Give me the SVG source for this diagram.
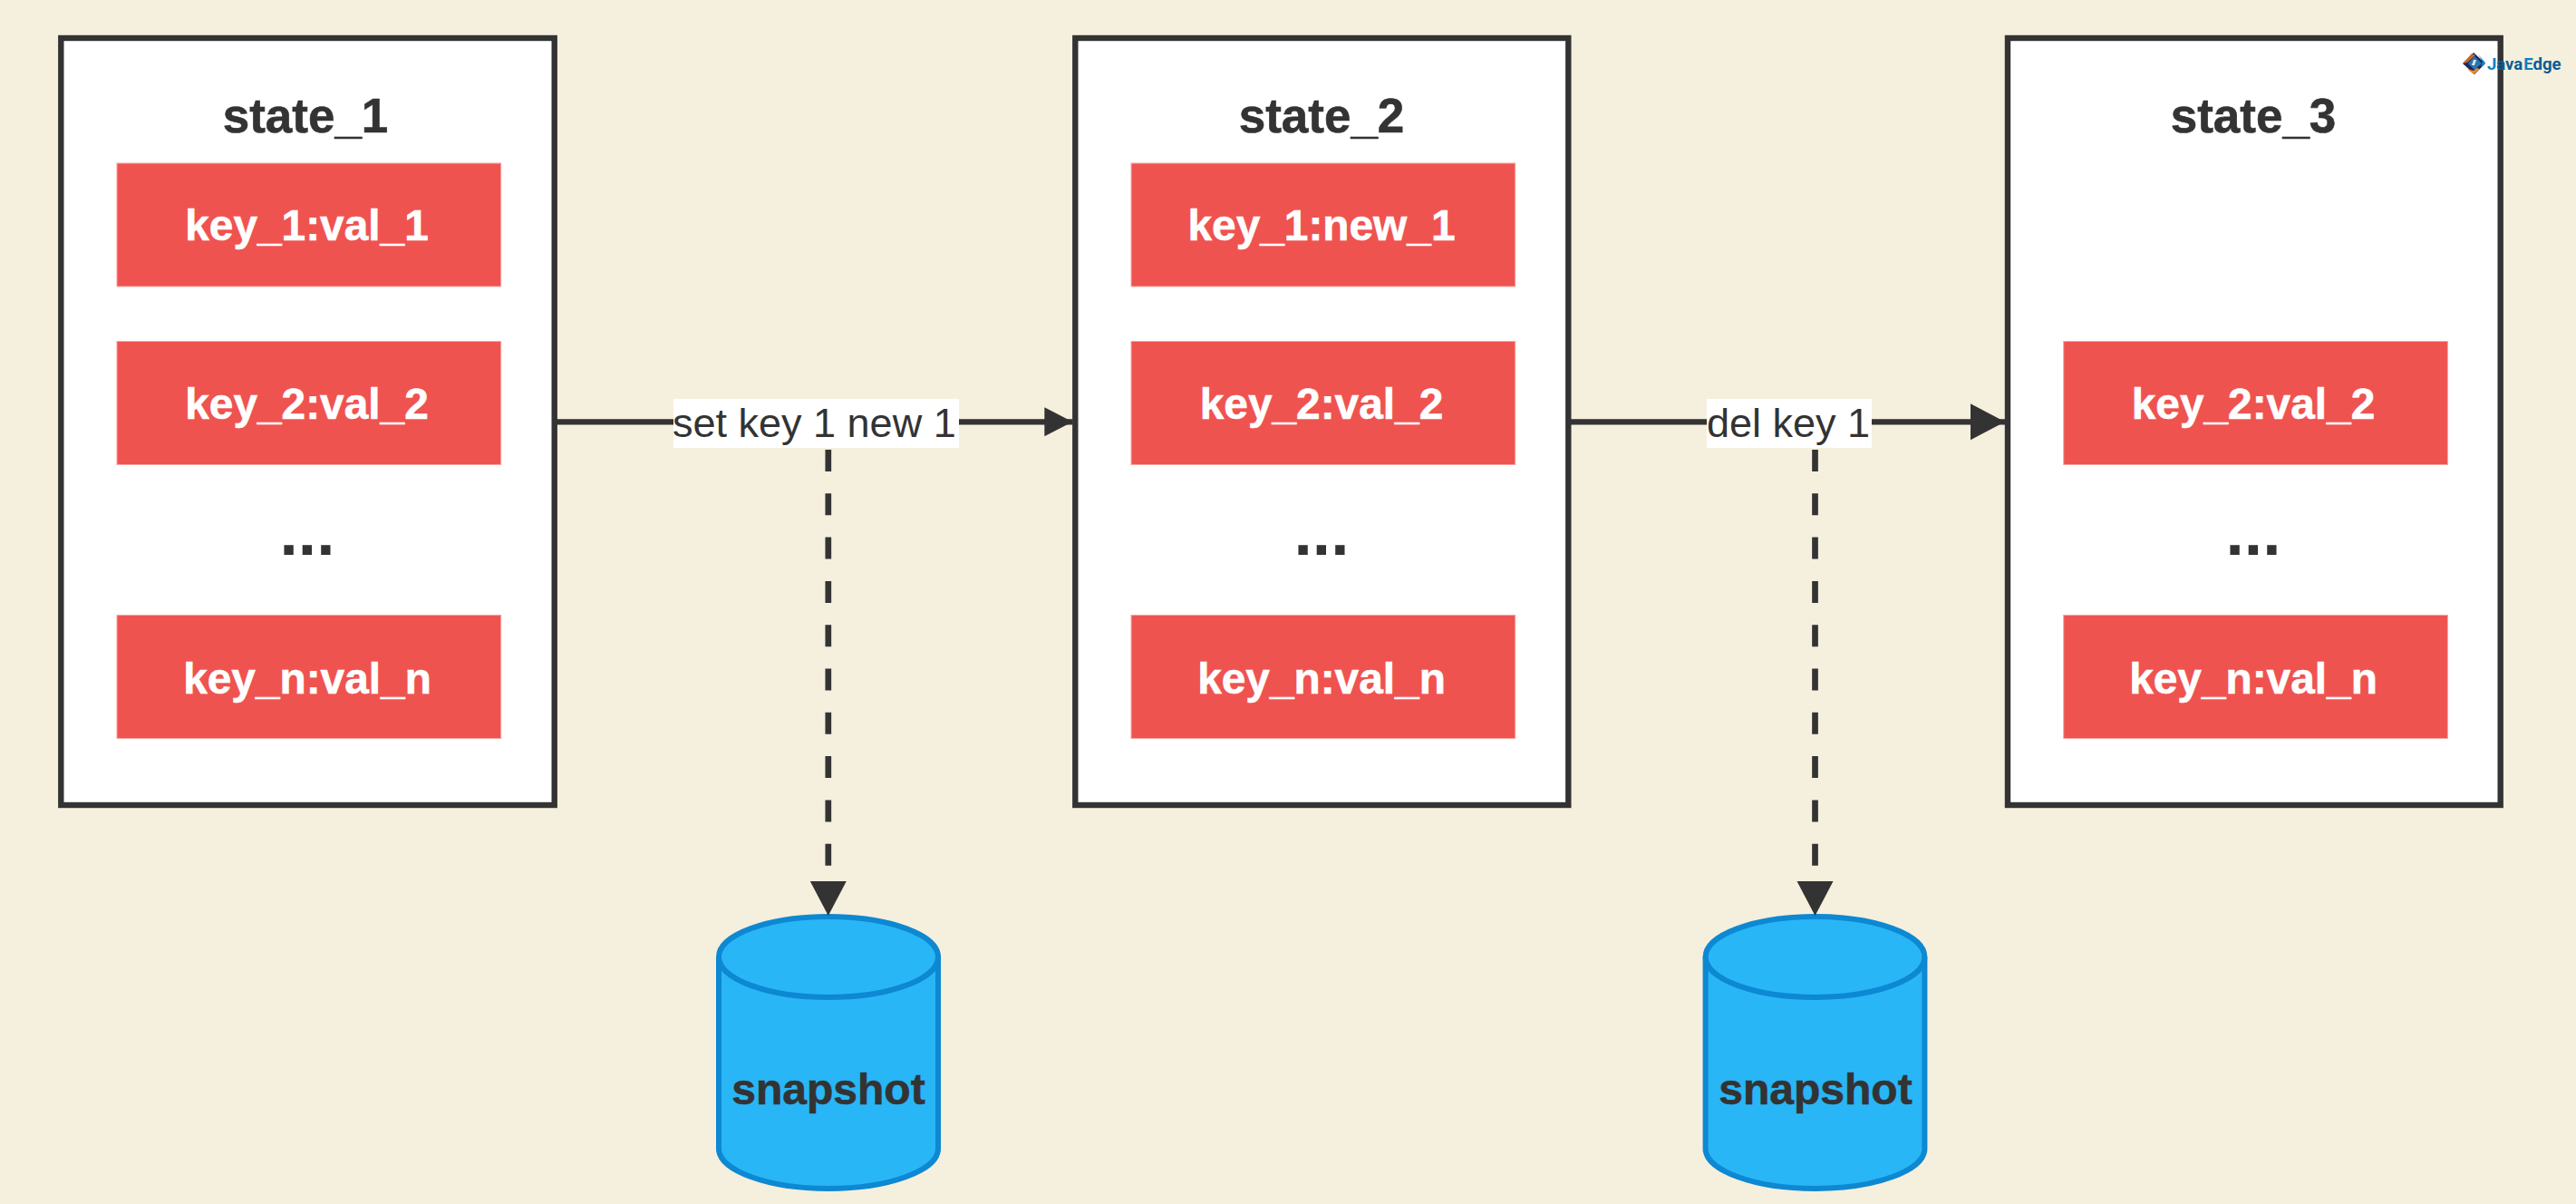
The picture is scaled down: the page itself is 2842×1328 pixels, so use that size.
<svg xmlns="http://www.w3.org/2000/svg" width="2842" height="1328" viewBox="0 0 2842 1328">
<style>
text{font-family:"Liberation Sans",Arial,sans-serif}
.box{fill:#fff;stroke:#333;stroke-width:6.4}
.kv{fill:#ef5350;stroke:#f8a5a3;stroke-width:1}
.kt{fill:#fff;stroke:#fff;stroke-width:.6;font-size:47.8px;font-weight:700;text-anchor:middle}
.title{fill:#333;stroke:#333;stroke-width:.6;font-size:53px;font-weight:700;text-anchor:middle}
.dots{fill:#333;font-size:73px;font-weight:700;text-anchor:middle}
.line{fill:none;stroke:#333;stroke-width:6.2}
.dash{stroke-width:6.7;stroke-dasharray:24 24.3}
.lbl{fill:#fff}
.lt{fill:#333;font-size:45px}
.db{fill:#29b6f6;stroke:#0d88d2;stroke-width:6}
.rim{fill:none;stroke:#0d88d2;stroke-width:6}
.dt{fill:#333;stroke:#333;stroke-width:.6;font-size:48px;font-weight:700;text-anchor:middle}
</style>
<defs>
<marker id="a1" markerUnits="userSpaceOnUse" markerWidth="34" markerHeight="34" refX="31" refY="16" orient="auto"><path d="M0 0L31 16L0 32Z" fill="#333"/></marker>
<marker id="a2" markerUnits="userSpaceOnUse" markerWidth="40" markerHeight="42" refX="38" refY="20" orient="auto"><path d="M0 0L38 20L0 40Z" fill="#333"/></marker>
<marker id="a3" markerUnits="userSpaceOnUse" markerWidth="42" markerHeight="42" refX="2" refY="20" orient="auto"><path d="M2 0L40 20L2 40Z" fill="#333"/></marker>
</defs>
<rect width="2842" height="1328" fill="#f5efdd"/>
<g id="state_1">
<rect class="box" x="67.3" y="42" width="544.4" height="846"/>
<text class="title" x="337" y="145.5">state_1</text>
<rect class="kv" x="129" y="180" width="423.7" height="136"/><text class="kt" x="338.5" y="265">key_1:val_1</text>
<rect class="kv" x="129" y="376.5" width="423.7" height="136"/><text class="kt" x="338.5" y="462">key_2:val_2</text>
<text class="dots" x="339" y="611.7">...</text>
<rect class="kv" x="129" y="678.5" width="423.7" height="136"/><text class="kt" x="339" y="765">key_n:val_n</text>
</g>
<g id="state_2">
<rect class="box" x="1186.3" y="42" width="544" height="846"/>
<text class="title" x="1458" y="145.5">state_2</text>
<rect class="kv" x="1248" y="180" width="423.7" height="136"/><text class="kt" x="1458" y="265">key_1:new_1</text>
<rect class="kv" x="1248" y="376.5" width="423.7" height="136"/><text class="kt" x="1458" y="462">key_2:val_2</text>
<text class="dots" x="1458" y="611.7">...</text>
<rect class="kv" x="1248" y="678.5" width="423.7" height="136"/><text class="kt" x="1458" y="765">key_n:val_n</text>
</g>
<g id="state_3">
<rect class="box" x="2215" y="42" width="543.7" height="846"/>
<text class="title" x="2486" y="145.5">state_3</text>
<rect class="kv" x="2276.7" y="376.5" width="423.7" height="136"/><text class="kt" x="2486" y="462">key_2:val_2</text>
<text class="dots" x="2486" y="611.7">...</text>
<rect class="kv" x="2276.7" y="678.5" width="423.7" height="136"/><text class="kt" x="2486" y="765">key_n:val_n</text>
</g>
<g id="snapshot_1">
<path class="db" d="M793 1055.5C793 1031 847 1011 914 1011S1035 1031 1035 1055.5V1267C1035 1291 981 1311 914 1311S793 1291 793 1267Z"/>
<path class="rim" d="M793 1055.5C793 1080 847 1100 914 1100S1035 1080 1035 1055.5"/>
<text class="dt" x="914" y="1218">snapshot</text>
</g>
<g id="snapshot_2">
<path class="db" d="M1881.6 1055.5C1881.6 1031 1935.6 1011 2002.5 1011S2123.4 1031 2123.4 1055.5V1267C2123.4 1291 2069.4 1311 2002.5 1311S1881.6 1291 1881.6 1267Z"/>
<path class="rim" d="M1881.6 1055.5C1881.6 1080 1935.6 1100 2002.5 1100S2123.4 1080 2123.4 1055.5"/>
<text class="dt" x="2003" y="1218">snapshot</text>
</g>
<g id="connectors">
<line class="line" x1="612" y1="465.3" x2="1183.3" y2="465.3" marker-end="url(#a1)"/>
<line class="line" x1="1731" y1="465.3" x2="2212" y2="465.3" marker-end="url(#a2)"/>
<line class="line dash" x1="913.8" y1="496" x2="913.8" y2="972" marker-end="url(#a3)"/>
<line class="line dash" x1="2002.5" y1="496" x2="2002.5" y2="972" marker-end="url(#a3)"/>
<rect class="lbl" x="743" y="440" width="315" height="54"/>
<text class="lt" x="742" y="481.7">set key 1 new 1</text>
<rect class="lbl" x="1883" y="440" width="182" height="54"/>
<text class="lt" x="1883" y="481.7">del key 1</text>
</g>
<g id="watermark">
<path d="M2729 58L2742 70L2730 82L2717 70Z" fill="#1b2a5c"/>
<path d="M2717 70L2727 59L2731 61L2722 69Z" fill="#c9662a"/>
<path d="M2722 76L2729 82L2736 76L2732 75L2729 78Z" fill="#ec8a2c"/>
<path d="M2734 60L2742 69L2737 74L2739 68Z" fill="#1b8fd6"/>
<path d="M2730 62L2738 70L2730 77L2723 70Z" fill="#2677b4"/>
<path d="M2729 66L2732 66L2730 72L2727 72Z" fill="#dbe7f2"/>
<text x="2744" y="76.7" style="font-family:Roboto,'Liberation Sans',sans-serif;font-size:18.5px;font-weight:700"><tspan fill="#0c80c4">J</tspan><tspan fill="#0b5c94">ava</tspan><tspan dx="1" fill="#0c80c4">E</tspan><tspan fill="#0b5c94">dge</tspan></text>
</g>
</svg>
